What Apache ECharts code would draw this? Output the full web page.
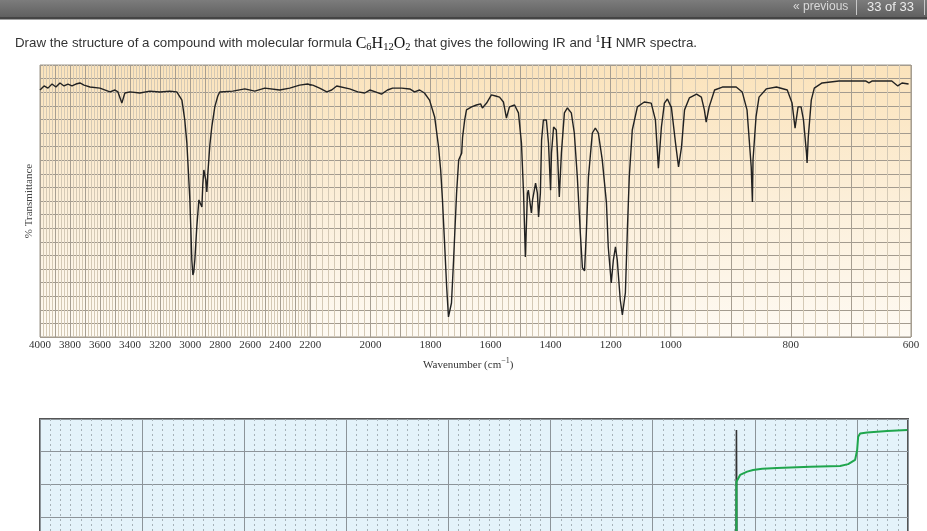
<!DOCTYPE html>
<html><head><meta charset="utf-8">
<script src="https://cdn.jsdelivr.net/npm/echarts@6.0.0/dist/echarts.min.js"></script>
<style>html,body{margin:0;padding:0;background:#fff}#c{width:927px;height:531px}</style>
</head><body><div id="c"></div>
<script>
// ---------- IR spectrum (wavenumber in cm^-1, % transmittance) ----------
const irWavenumber = [
 4000,3973,3947,3920,3894,3867,3840,3814,3787,3761,3734,3707,3667,3601,3534,3501,3481,3455,3435,3401,
 3335,3268,3202,3135,3089,3055,3036,3022,3016,3002,2996,2989,2982,2976,2969,2956,2942,2929,2922,2916,
 2909,2902,2896,2889,2883,2876,2869,2856,2836,2816,2803,2716,2636,2570,2503,2404,2337,2271,2218,
 2192,2169,2145,2129,2112,2069,2042,2019,2002,1983,1963,1943,1926,1896,1869,1853,1836,1820,1803,1786,
 1773,1766,1760,1753,1746,1740,1736,1730,1723,1713,1706,1696,1693,1686,1680,1663,1647,1633,1627,1613,
 1597,1583,1570,1557,1547,1537,1520,1507,1497,1490,1484,1477,1474,1464,1460,1450,1444,1440,1434,1430,
 1424,1414,1407,1400,1397,1390,1381,1377,1371,1364,1354,1344,1331,1321,1311,1301,1294,1287,1281,1274,
 1261,1251,1241,1228,1214,1208,1198,1191,1184,1178,1168,1161,1151,1144,1138,1128,1111,1088,1065,1051,
 1041,1031,1021,1011,
 999,992,987,982,977,969,957,949,944,941,936,927,914,891,881,873,866,864,863,858,
 853,841,824,806,798,793,788,783,779,774,773,771,766,761,748,720,675,670,665,632,622,615,604
];
const irTransmittance = [
 90.8,92.3,91.5,93.0,91.9,93.4,92.3,93.0,92.3,93.0,93.4,92.6,91.9,91.5,90.1,90.8,90.1,86.0,89.7,90.1,
 89.7,90.4,90.1,90.4,90.1,87.1,79.8,71.3,65.1,50.4,40.4,28.3,22.8,23.9,28.3,40.4,50.4,51.1,47.8,55.9,
 61.4,62.1,57.7,53.3,59.6,65.1,70.6,77.2,84.6,88.6,90.1,90.4,91.2,90.4,91.5,90.8,91.5,92.6,93.0,
 92.6,91.5,90.1,90.8,92.3,91.2,90.1,89.7,90.8,90.1,89.3,90.8,91.5,91.5,91.2,90.1,90.8,89.7,87.1,80.9,
 69.9,61.4,50.4,34.6,18.4,7.4,7.0,12.5,28.3,52.9,65.1,67.6,73.5,79.8,83.5,84.6,85.3,85.7,84.2,86.0,
 89.0,88.6,88.2,86.4,80.5,84.6,85.3,82.4,71.3,52.9,29.4,52.9,54.0,45.6,50.4,56.6,52.9,44.1,52.9,72.4,
 79.8,79.8,71.3,54.0,67.6,77.2,76.1,67.6,51.5,67.6,82.4,84.2,82.4,75.0,58.8,38.2,25.4,24.3,38.2,58.8,
 75.0,76.8,75.0,65.1,49.3,33.1,19.9,28.3,33.1,28.3,13.6,8.1,16.2,40.4,58.8,76.1,84.6,86.4,86.0,79.8,
 62.1,77.2,86.0,87.5,
 84.6,71.3,62.5,69.9,83.5,87.9,89.3,88.2,83.5,79.0,84.6,90.8,91.9,91.9,90.1,83.5,62.5,49.6,65.1,80.9,
 88.2,91.2,91.9,90.8,86.0,76.8,84.6,84.6,79.8,67.6,64.0,73.5,87.1,91.5,93.4,94.1,94.1,93.4,94.1,94.1,92.3,93.4,93.0
];
// axis segments (the printed chart changes scale at 2200 and 1000 cm^-1)
const irSegmentBounds = [4000, 2200, 1000, 600];
const irTickLabels = [4000,3800,3600,3400,3200,3000,2800,2600,2400,2200,2000,1800,1600,1400,1200,1000,800,600];

// ---------- 1H NMR (ppm, arbitrary height units) ----------
const nmrPeakPpm = [1.19, 1.18, 1.17];
const nmrPeakHeight = [1.0, 9.66, 1.0];
const nmrIntegralPpm = [1.18, 1.18, 1.144, 1.075, 1.017, 0.928, 0.782, 0.458, 0.165, 0.086, 0.018, -0.002, -0.012, -0.031, -0.1, -0.296, -0.492];
const nmrIntegralHeight = [5.0, 8.08, 8.29, 8.39, 8.44, 8.48, 8.50, 8.54, 8.56, 8.62, 8.75, 9.05, 9.46, 9.56, 9.59, 9.63, 9.66];

// ---------- layout ----------
const segScale = [1, 2, 4];           // relative px per cm^-1 in each segment
const plotL = 40, plotR = 911, plotT = 65, plotH = 272;
let units = 0;
for (let i = 0; i < 3; i++) units += (irSegmentBounds[i] - irSegmentBounds[i + 1]) * segScale[i];
const pxPerUnit = (plotR - plotL) / units;

const irPairs = irWavenumber.map((w, i) => [w, irTransmittance[i]]);
const bg = { type: 'linear', x: 0, y: 0, x2: 0, y2: 1,
  colorStops: [{ offset: 0, color: '#fbe3bb' }, { offset: 0.55, color: '#fcf0dc' }, { offset: 1, color: '#fefaf3' }] };

const grids = [], xAxes = [], yAxes = [], series = [];
let left = plotL;
for (let i = 0; i < 3; i++) {
  const hi = irSegmentBounds[i], lo = irSegmentBounds[i + 1];
  const width = (hi - lo) * segScale[i] * pxPerUnit;
  grids.push({ left: left, top: plotT, width: width, height: plotH, show: true, outerBoundsMode: 'none',
    backgroundColor: bg, borderColor: '#9d968b', borderWidth: 1 });
  left += width;
  xAxes.push({
    gridIndex: i, type: 'value', min: lo, max: hi, interval: 100, inverse: true,
    axisLine: { show: false }, axisTick: { show: false },
    splitLine: { show: true, lineStyle: { color: '#a69e91', width: 1 } },
    minorTick: { show: false, splitNumber: 5 },
    minorSplitLine: { show: true, lineStyle: { color: '#d4c9b5', width: 1 } },
    axisLabel: {
      show: true, margin: 3, showMinLabel: true, showMaxLabel: true,
      fontFamily: 'Liberation Serif', fontSize: 11, color: '#333',
      formatter: v => (irTickLabels.indexOf(v) >= 0 && (i === 0 || v !== hi)) ? String(v) : ''
    }
  });
  yAxes.push({
    gridIndex: i, type: 'value', min: 0, max: 100, interval: 5,
    axisLine: { show: false }, axisTick: { show: false }, axisLabel: { show: false },
    splitLine: { show: true, lineStyle: { color: '#a39b8f', width: 1 } },
    name: i === 0 ? '% Transmittance' : '', nameLocation: 'middle', nameGap: 5, nameRotate: 90,
    nameTextStyle: { fontFamily: 'Liberation Serif', fontSize: 11, color: '#444' }
  });
  // points inside this segment plus one neighbour on each side (clipped by the grid)
  let first = irPairs.findIndex(p => p[0] <= hi);
  let last = irPairs.length - 1;
  for (let k = irPairs.length - 1; k >= 0; k--) { if (irPairs[k][0] >= lo) { last = k; break; } }
  const segData = irPairs.slice(Math.max(0, first - 1), Math.min(irPairs.length, last + 2));
  series.push({ type: 'line', xAxisIndex: i, yAxisIndex: i, data: segData, showSymbol: false,
    clip: true, lineStyle: { color: '#222', width: 1.4 }, silent: true, animation: false });
}

// NMR grid
grids.push({ left: 40, top: 419, width: 868, height: 327, show: true, outerBoundsMode: 'none',
  backgroundColor: '#e4f3fa', borderColor: '#555', borderWidth: 2 });
xAxes.push({ gridIndex: 3, type: 'value', min: -0.5, max: 8, interval: 0.1, inverse: true, position: 'top',
  axisLine: { show: false }, axisTick: { show: false }, axisLabel: { show: false },
  splitLine: { show: true, lineStyle: { color: '#a6b2b8', width: 1, type: [2, 3] } } });
xAxes.push({ gridIndex: 3, type: 'value', min: -0.5, max: 8, splitNumber: 9, inverse: true, position: 'bottom', z: 1,
  axisLine: { show: false }, axisTick: { show: false }, axisLabel: { show: false },
  splitLine: { show: true, lineStyle: { color: '#8c9499', width: 1 } } });
yAxes.push({ gridIndex: 3, type: 'value', min: 0, max: 10, interval: 1,
  axisLine: { show: false }, axisTick: { show: false }, axisLabel: { show: false },
  splitLine: { show: true, lineStyle: { color: '#8c9499', width: 1 } } });
series.push({ type: 'line', xAxisIndex: 4, yAxisIndex: 3, showSymbol: false, animation: false, silent: true,
  data: nmrPeakPpm.map((p, i) => [p, nmrPeakHeight[i]]), lineStyle: { color: '#333', width: 1.6 } });
series.push({ type: 'line', xAxisIndex: 4, yAxisIndex: 3, showSymbol: false, animation: false, silent: true,
  data: nmrIntegralPpm.map((p, i) => [p, nmrIntegralHeight[i]]), lineStyle: { color: '#1fa64d', width: 2 } });

const chart = echarts.init(document.getElementById('c'), null, { renderer: 'canvas' });
chart.setOption({
  animation: false,
  backgroundColor: '#ffffff',
  title: [
    { text: '{a|Draw the structure of a compound with molecular formula }{f|C}{sb|6}{f|H}{sb|12}{f|O}{sb|2}{a| that gives the following IR and }{sp|1}{f|H}{a| NMR spectra.}',
      left: 15, top: 34, padding: 0,
      textStyle: { fontWeight: 'normal', rich: {
        a: { fontFamily: 'Liberation Sans', fontWeight: 'normal', fontSize: 13.3, color: '#333', lineHeight: 19 },
        f: { fontFamily: 'Liberation Serif', fontWeight: 'normal', fontSize: 16, color: '#111', lineHeight: 19 },
        sb: { fontFamily: 'Liberation Serif', fontWeight: 'normal', fontSize: 10.5, color: '#111', lineHeight: 19, verticalAlign: 'bottom' },
        sp: { fontFamily: 'Liberation Serif', fontWeight: 'normal', fontSize: 10.5, color: '#111', lineHeight: 19, verticalAlign: 'top' }
      } } },
    { text: '{a|Wavenumber (cm}{s|\u22121}{a|)}', left: 423, top: 357, padding: 0,
      textStyle: { fontWeight: 'normal', rich: {
        a: { fontFamily: 'Liberation Serif', fontWeight: 'normal', fontSize: 11, color: '#333', lineHeight: 16 },
        s: { fontFamily: 'Liberation Serif', fontWeight: 'normal', fontSize: 8, color: '#333', lineHeight: 16, verticalAlign: 'top' }
      } } }
  ],
  graphic: [
    { type: 'rect', shape: { x: 0, y: 0, width: 927, height: 17 }, silent: true,
      style: { fill: { type: 'linear', x: 0, y: 0, x2: 0, y2: 1, colorStops: [{ offset: 0, color: '#7c7c7c' }, { offset: 1, color: '#606060' }] } } },
    { type: 'rect', shape: { x: 0, y: 17, width: 927, height: 2.5 }, silent: true, style: { fill: '#454545' } },
    { type: 'text', x: 793, y: 7, silent: true, style: { text: '\u00ab previous', fill: '#d9d9d9', font: '12px "Liberation Sans"', verticalAlign: 'middle' } },
    { type: 'rect', shape: { x: 856, y: 0, width: 1, height: 15 }, silent: true, style: { fill: '#c8c8c8' } },
    { type: 'text', x: 867, y: 7, silent: true, style: { text: '33 of 33', fill: '#ececec', font: '13px "Liberation Sans"', verticalAlign: 'middle' } },
    { type: 'rect', shape: { x: 924, y: 0, width: 1, height: 15 }, silent: true, style: { fill: '#c8c8c8' } }
  ],
  grid: grids, xAxis: xAxes, yAxis: yAxes, series: series
});
</script></body></html>
